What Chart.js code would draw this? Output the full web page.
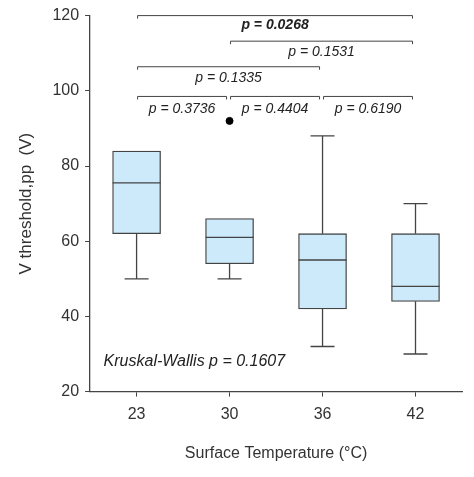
<!DOCTYPE html>
<html>
<head>
<meta charset="utf-8">
<script src="https://cdn.jsdelivr.net/npm/chart.js@4"></script>
<style>
  body { margin: 0; background: #fff; }
  #wrap { width: 474px; height: 477px; }
</style>
</head>
<body>
<div id="wrap"><canvas id="boxChart"></canvas></div>
<script>
// Box plot values
const temps = ['23', '30', '36', '42'];
const mins = [50, 50, 32, 30];
const q1s = [62, 54, 42, 44];
const medians = [75.5, 61, 55, 48];
const q3s = [84, 66, 62, 62];
const maxs = [84, 66, 88, 70];
const outliers = [null, 92, null, null];
const yTicks = [20, 40, 60, 80, 100, 120];

// Pairwise comparisons: [from index, to index, bracket level, label, bold]
const brackets = [
  [0, 3, 120, 'p = 0.0268', true],
  [1, 3, 113.2, 'p = 0.1531', false],
  [0, 2, 106.4, 'p = 0.1335', false],
  [0, 1, 98.5, 'p = 0.3736', false],
  [1, 2, 98.5, 'p = 0.4404', false],
  [2, 3, 98.5, 'p = 0.6190', false]
];
const labelY = [117.4, 110.4, 103.3, 95, 95, 95];
const kwLabel = 'Kruskal-Wallis p = 0.1607';

const ink = '#444';
const font = '"Liberation Sans", Arial';

// Draw whiskers, medians and significance brackets using the chart scales
const boxExtras = {
  id: 'boxExtras',
  afterDatasetsDraw(chart) {
    const ctx = chart.ctx;
    const x = chart.scales.x, y = chart.scales.y;
    ctx.save();
    ctx.strokeStyle = ink;
    ctx.lineWidth = 1.3;
    temps.forEach((t, i) => {
      const cx = x.getPixelForValue(i);
      const cap = 12;
      ctx.beginPath();
      if (maxs[i] > q3s[i]) {
        ctx.moveTo(cx, y.getPixelForValue(q3s[i]));
        ctx.lineTo(cx, y.getPixelForValue(maxs[i]));
        ctx.moveTo(cx - cap, y.getPixelForValue(maxs[i]));
        ctx.lineTo(cx + cap, y.getPixelForValue(maxs[i]));
      }
      if (mins[i] < q1s[i]) {
        ctx.moveTo(cx, y.getPixelForValue(q1s[i]));
        ctx.lineTo(cx, y.getPixelForValue(mins[i]));
        ctx.moveTo(cx - cap, y.getPixelForValue(mins[i]));
        ctx.lineTo(cx + cap, y.getPixelForValue(mins[i]));
      }
      ctx.moveTo(cx - 24, y.getPixelForValue(medians[i]));
      ctx.lineTo(cx + 24, y.getPixelForValue(medians[i]));
      ctx.stroke();
    });

    ctx.lineWidth = 1;
    ctx.fillStyle = '#222';
    ctx.textAlign = 'center';
    ctx.textBaseline = 'middle';
    brackets.forEach((b, k) => {
      const x0 = x.getPixelForValue(b[0]) + 1;
      const x1 = x.getPixelForValue(b[1]) - 3;
      const by = y.getPixelForValue(b[2]);
      ctx.beginPath();
      ctx.moveTo(x0, by + 3);
      ctx.lineTo(x0, by);
      ctx.lineTo(x1, by);
      ctx.lineTo(x1, by + 3);
      ctx.stroke();
      ctx.font = (b[4] ? 'italic bold ' : 'italic ') + '14px ' + font;
      ctx.fillText(b[3], (x0 + x1) / 2, y.getPixelForValue(labelY[k]));
    });

    ctx.textAlign = 'left';
    ctx.font = 'italic 16px ' + font;
    ctx.fillText(kwLabel, x.getPixelForValue(0) - 33, y.getPixelForValue(28));
    ctx.restore();
  }
};

const ctx = document.getElementById('boxChart').getContext('2d');
new Chart(ctx, {
  type: 'bar',
  data: {
    labels: temps,
    datasets: [{
      data: q1s.map((q, i) => [q, q3s[i]]),
      backgroundColor: '#cdeafb',
      borderColor: ink,
      borderWidth: 1.3,
      borderSkipped: false,
      barThickness: 48
    }, {
      type: 'line',
      data: outliers,
      showLine: false,
      pointRadius: 3.5,
      pointBackgroundColor: '#000',
      pointBorderColor: '#000'
    }]
  },
  options: {
    responsive: true,
    maintainAspectRatio: false,
    animation: false,
    layout: { padding: { top: 14, right: 12, left: 12, bottom: 10 } },
    plugins: { legend: { display: false }, tooltip: { enabled: false } },
    scales: {
      x: {
        grid: { display: true, offset: false, drawOnChartArea: false, tickLength: 5, color: ink },
        border: { color: ink, width: 1.3 },
        ticks: { color: '#333', font: { size: 16, family: font }, padding: 8 },
        title: {
          display: true, text: 'Surface Temperature (°C)', color: '#333',
          font: { size: 16, family: font }, padding: { top: 12 }
        }
      },
      y: {
        min: 20, max: 120,
        afterBuildTicks: axis => { axis.ticks = yTicks.map(v => ({ value: v })); },
        grid: { display: true, drawOnChartArea: false, tickLength: 5, color: ink },
        border: { color: ink, width: 1.3 },
        ticks: { color: '#333', font: { size: 16, family: font }, padding: 6 },
        title: {
          display: true, text: 'V threshold,pp  (V)', color: '#333',
          font: { size: 17, family: font }, padding: { bottom: 10 }
        }
      }
    }
  },
  plugins: [boxExtras]
});
</script>
</body>
</html>
